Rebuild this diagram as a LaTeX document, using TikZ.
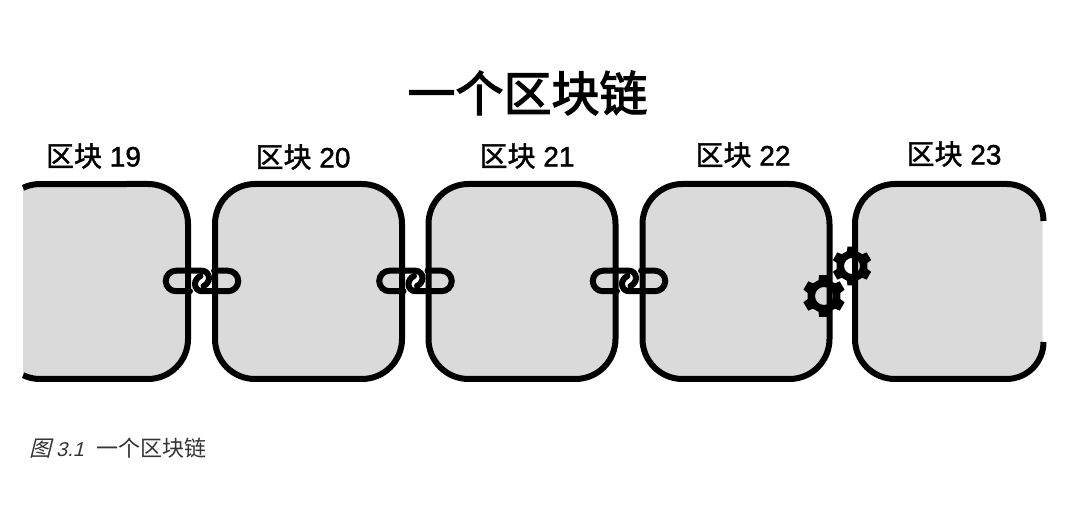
\documentclass[tikz,border=0pt]{standalone}
\usepackage{fontspec}
\setmainfont{Liberation Sans}[FakeBold=1.5]
\newfontfamily\cjk{Noto Sans CJK SC}[FakeBold=1.5]
\newfontfamily\cjktitle{Noto Sans CJK SC}[FakeBold=2.5]
\newfontfamily\capfont{Liberation Sans}[FakeSlant=0.25]
\newfontfamily\cjkslant{Noto Sans CJK SC}[FakeSlant=0.25]
\newfontfamily\cjkplain{Noto Sans CJK SC}
\definecolor{blockgrey}{HTML}{DADADA}
\definecolor{captiongrey}{HTML}{333333}
\tikzset{
  x=1pt,y=1pt,
  block/.style={draw=black,fill=blockgrey,line width=6pt,rounded corners=40pt,minimum width=187pt,minimum height=195pt,inner sep=0pt,outer sep=0pt},
  endstroke/.style={draw=black,line width=6pt},
  blocklabel/.style={font=\fontsize{28}{30}\selectfont,inner sep=0pt,text=black},
  linkstroke/.style={draw=black,line width=6pt,line cap=round},
  chainlink/.pic={
    \draw[linkstroke] (-12,-10.25) -- (-26,-10.25) arc[start angle=270,end angle=90,radius=10.25] -- (0,10.25) .. controls (4,10.25) and (7,7) .. (7,3) .. controls (7,0) and (5,-3.5) .. (1.5,-5);
    \draw[linkstroke] (12,10.25) -- (26,10.25) arc[start angle=90,end angle=-90,radius=10.25] -- (0,-10.25) .. controls (-4,-10.25) and (-7,-7) .. (-7,-3) .. controls (-7,0) and (-5,3.5) .. (-1.5,5);
  }
}
\newcommand{\gearat}[4]{%
  \fill[black,even odd rule,shift={(#1,#2)}] (0,0) circle[radius=#4]
    (71:0.78*#3) \foreach \a in {90,150,...,390} { -- (\a-19:0.78*#3) -- (\a-13:#3) -- (\a+13:#3) -- (\a+19:0.78*#3) } -- cycle;}
\begin{document}
\begin{tikzpicture}
\useasboundingbox (0,0) rectangle (1080,526);
% end block left
\fill[blockgrey] (23,338.9) arc[start angle=115,end angle=90,radius=40] -- (148,342) arc[start angle=90,end angle=0,radius=40] -- (188,187) arc[start angle=0,end angle=-90,radius=40] -- (40,147) arc[start angle=270,end angle=245,radius=40] -- cycle;
\draw[endstroke] (23,338.2) arc[start angle=115,end angle=90,radius=40] -- (148,342) arc[start angle=90,end angle=0,radius=40] -- (188,187) arc[start angle=0,end angle=-90,radius=40] -- (40,147) arc[start angle=270,end angle=245,radius=40];
% middle blocks
\node[block] (b20) at (308.5,244.5) {};
\node[block] (b21) at (522,244.5) {};
\node[block] (b22) at (736,244.5) {};
% end block right
\fill[blockgrey] (1042.5,305) arc[start angle=0,end angle=90,radius=37] -- (895,342) arc[start angle=90,end angle=180,radius=40] -- (855,187) arc[start angle=180,end angle=270,radius=40] -- (1005.5,147) arc[start angle=270,end angle=360,radius=37] -- cycle;
\draw[endstroke] (1043.5,305) arc[start angle=0,end angle=90,radius=37] -- (895,342) arc[start angle=90,end angle=180,radius=40] -- (855,187) arc[start angle=180,end angle=270,radius=40] -- (1006.5,147) arc[start angle=270,end angle=360,radius=37];
% links
\pic at (202,245) {chainlink};
\pic at (415.5,245) {chainlink};
\pic at (629,245) {chainlink};
% gears
\gearat{824}{230}{21.5}{9}
\gearat{852}{260}{20}{8}
% texts
\node[inner sep=0pt,font=\fontsize{48}{52}\selectfont\cjktitle] (title) at (527.5,433) {一个区块链};
\node[blocklabel] (l19) at (93.5,370) {{\cjk 区块} 19};
\node[blocklabel] (l20) at (303,369) {{\cjk 区块} 20};
\node[blocklabel] (l21) at (527,370) {{\cjk 区块} 21};
\node[blocklabel] (l22) at (743,371) {{\cjk 区块} 22};
\node[blocklabel] (l23) at (954,372) {{\cjk 区块} 23};
\node[inner sep=0pt,anchor=west,text=captiongrey,font=\fontsize{22}{24}\selectfont] (cap) at (29,78) {{\cjkslant 图}\hspace{5pt}{\capfont\fontsize{20}{24}\selectfont 3.1}\hspace{12pt}{\cjkplain 一个区块链}};
\end{tikzpicture}
\end{document}
